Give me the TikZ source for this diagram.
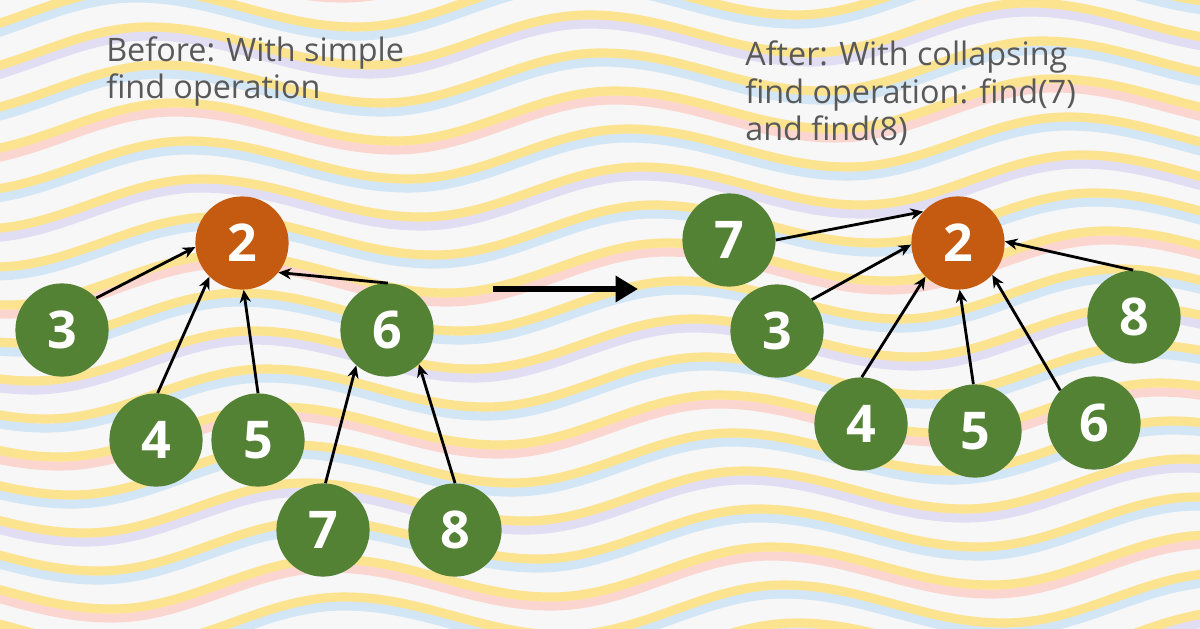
\documentclass[tikz,border=0pt]{standalone}
\usepackage{fontspec}
\setmainfont{Open Sans}
\usetikzlibrary{arrows.meta}

\definecolor{treegreen}{HTML}{548235}
\definecolor{rootorange}{HTML}{C55A11}
\definecolor{captiongray}{HTML}{595959}
\definecolor{bgwhite}{HTML}{F7F7F7}
\definecolor{waveyellow}{HTML}{FCE38F}
\definecolor{waveblue}{HTML}{D3E6F6}
\definecolor{wavepink}{HTML}{FBD6D1}
\definecolor{wavelilac}{HTML}{E1DDF3}

\begin{document}
\begin{tikzpicture}[x=0.025cm, y=-0.025cm,
    element/.style={circle, fill=treegreen, minimum size=2.33cm, inner sep=0pt,
      text=white, font=\bfseries\fontsize{37}{37}\selectfont},
    root/.style={element, fill=rootorange},
    link/.style={-{Stealth[length=9pt,width=8pt]}, line width=2pt},
    wave/.style={line width=6.5pt},
    caption/.style={anchor=base west, align=left, inner sep=0pt, text=captiongray,
      font=\fontsize{23}{27}\selectfont}]
    \useasboundingbox (0,0) rectangle (1200,629);

    % Background with pastel waves (a yellow band with a tinted band below it)
    \fill[bgwhite] (0,0) rectangle (1200,629);
    \begin{scope}
        \clip (0,0) rectangle (1200,629);
        \foreach \k in {0,...,21} {
            \pgfmathsetmacro{\yo}{-50+38*\k}
            \pgfmathsetmacro{\xo}{-440+mod(13*\k,440)}
            \pgfmathtruncatemacro{\ci}{mod(\k,4)}
            \pgfmathparse{{"waveblue","wavepink","waveblue","wavelilac"}[\ci]}
            \edef\wavecolor{\pgfmathresult}
            \draw[wave, color=\wavecolor] (\xo,\yo+9)
                \foreach \q in {1,...,5} {sin ++(110,-25) cos ++(110,19) sin ++(110,19) cos ++(110,-25)};
            \draw[wave, color=waveyellow] (\xo,\yo)
                \foreach \q in {1,...,5} {sin ++(110,-25) cos ++(110,19) sin ++(110,19) cos ++(110,-25)};
        }
    \end{scope}

    % Captions
    \node[caption] (before) at (106,99) {Before: With simple\\find operation};
    \node[caption] (after) at (745,141) {After: With collapsing\\find operation: find(7)\\and find(8)};

    % Tree before (simple find)
    \node[root] (l2) at (242,243) {2};
    \node[element] (l3) at (62,330) {3};
    \node[element] (l4) at (156,440) {4};
    \node[element] (l5) at (258,440) {5};
    \node[element] (l6) at (387,330) {6};
    \node[element] (l7) at (323,530) {7};
    \node[element] (l8) at (455,530) {8};

    \draw[link] (l3.43) -- (l2.185);
    \draw[link] (l4.88) -- (l2.226);
    \draw[link] (l5.90) -- (l2.-88);
    \draw[link] (l6.89) -- (l2.-39);
    \draw[link] (l7.87) -- (l6.229);
    \draw[link] (l8.90) -- (l6.-47);

    % Transition arrow
    \coordinate (gofrom) at (493,289);
    \coordinate (goto) at (638,289);
    \draw[line width=4.3pt, -{Triangle[length=16pt,width=18pt]}] (gofrom) -- (goto);

    % Tree after (collapsing find)
    \node[root] (r2) at (958,243) {2};
    \node[element] (r7) at (729,240) {7};
    \node[element] (r3) at (777,331) {3};
    \node[element] (r8) at (1134,317) {8};
    \node[element] (r4) at (861,424) {4};
    \node[element] (r5) at (975,431) {5};
    \node[element] (r6) at (1094,423) {6};

    \draw[link] (r7.0) -- (r2.138);
    \draw[link] (r3.42) -- (r2.182);
    \draw[link] (r4.89) -- (r2.226);
    \draw[link] (r5.92) -- (r2.-88);
    \draw[link] (r6.136) -- (r2.-43);
    \draw[link] (r8.91) -- (r2.2);
\end{tikzpicture}
\end{document}
